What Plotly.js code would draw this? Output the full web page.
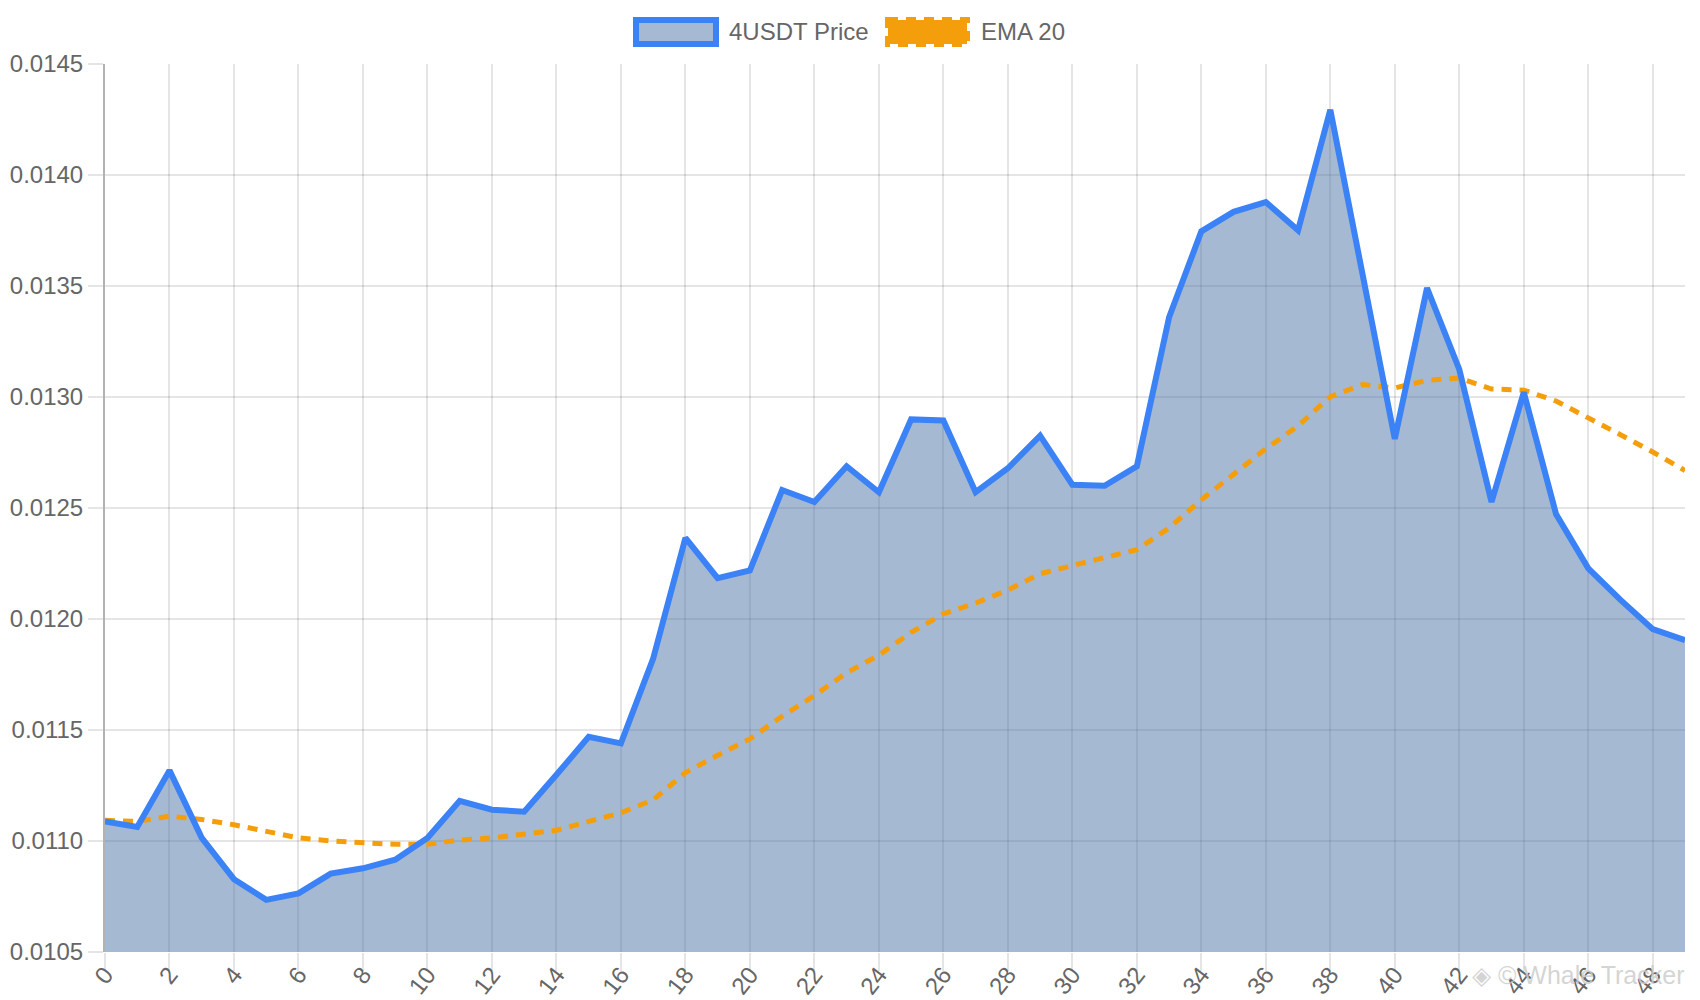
<!DOCTYPE html>
<html>
<head>
<meta charset="utf-8">
<script src="https://cdn.plot.ly/plotly-3.0.1.min.js"></script>
<style>
  html, body { margin: 0; padding: 0; background: #fff; }
  #chart { width: 1700px; height: 1000px; }
</style>
</head>
<body>
<div id="chart"></div>
<script>
// index of each candle (x axis)
var idx = [];
for (var i = 0; i < 50; i++) idx.push(i);

// 4USDT close price
var price = [
  0.011088, 0.011063, 0.011318, 0.011014, 0.010828, 0.010735, 0.010764, 0.010853, 0.010877, 0.010916,
  0.011014, 0.011181, 0.011141, 0.011132, 0.011298, 0.011469, 0.011440, 0.011822, 0.012365, 0.012184,
  0.012219, 0.012581, 0.012527, 0.012688, 0.012571, 0.012899, 0.012894, 0.012571, 0.012679, 0.012826,
  0.012605, 0.012600, 0.012688, 0.013359, 0.013746, 0.013834, 0.013878, 0.013751, 0.014294, 0.013565,
  0.012811, 0.013491, 0.013124, 0.012527, 0.013021, 0.012473, 0.012228, 0.012086, 0.011954, 0.011905
];

// EMA 20 of the price
var ema20 = [
  0.011093, 0.011088, 0.011112, 0.011097, 0.011073, 0.011043, 0.011014, 0.011000, 0.010990, 0.010985,
  0.010985, 0.011004, 0.011014, 0.011029, 0.011048, 0.011088, 0.011127, 0.011185, 0.011308, 0.011386,
  0.011460, 0.011562, 0.011655, 0.011758, 0.011837, 0.011940, 0.012023, 0.012072, 0.012130, 0.012204,
  0.012243, 0.012277, 0.012312, 0.012410, 0.012537, 0.012654, 0.012767, 0.012870, 0.013002, 0.013056,
  0.013041, 0.013075, 0.013085, 0.013036, 0.013031, 0.012982, 0.012909, 0.012830, 0.012752, 0.012669
];

var seriesNames = ['4USDT Price', 'EMA 20'];

var BLUE = '#3b82f6';
var FILL = 'rgba(78,115,166,0.5)';
var ORANGE = '#f59e0b';
var GRID = 'rgba(0,0,0,0.1)';
var FONT = 'Liberation Sans, Arial, Helvetica, sans-serif';

// plot area in page pixels
var W = 1700, H = 1000;
var L = 105, R = 15, T = 64, B = 48;
function px(x) { return (x - L) / (W - L - R); }
function py(y) { return (H - B - y) / (H - T - B); }

var data = [
  { // fill under the price
    type: 'scatter', mode: 'lines', x: idx, y: price,
    fill: 'tozeroy', fillcolor: FILL,
    line: { width: 0, color: FILL },
    hoverinfo: 'skip', showlegend: false
  },
  {
    type: 'scatter', mode: 'lines', x: idx, y: ema20, name: seriesNames[1],
    line: { color: ORANGE, width: 5, dash: '10px,8px' },
    showlegend: false
  },
  {
    type: 'scatter', mode: 'lines', x: idx, y: price, name: seriesNames[0],
    line: { color: BLUE, width: 6 },
    showlegend: false
  }
];

var layout = {
  width: W,
  height: H,
  margin: { l: L, r: R, t: T, b: B },
  paper_bgcolor: '#fff',
  plot_bgcolor: '#fff',
  font: { family: FONT, size: 24, color: '#666' },
  showlegend: false,
  xaxis: {
    range: [0, 49],
    tickmode: 'linear', tick0: 0, dtick: 2,
    tickangle: -52,
    ticks: 'outside', ticklen: 18, tickwidth: 2, tickcolor: GRID,
    ticklabelstandoff: -20,
    showgrid: true, gridcolor: GRID, gridwidth: 2,
    zeroline: false, showline: false,
    layer: 'below traces',
    automargin: false,
    tickfont: { family: FONT, size: 24, color: '#666' }
  },
  yaxis: {
    range: [0.0105, 0.0145],
    tickmode: 'linear', tick0: 0.0105, dtick: 0.0005,
    tickformat: '.4f',
    ticks: 'outside', ticklen: 15, tickwidth: 2, tickcolor: GRID,
    showgrid: true, gridcolor: GRID, gridwidth: 2,
    zeroline: false,
    showline: true, linecolor: 'rgba(0,0,0,0.3)', linewidth: 2,
    layer: 'below traces',
    automargin: false,
    tickfont: { family: FONT, size: 24, color: '#666' }
  },
  shapes: [
    { // legend swatch: price
      type: 'rect', xref: 'paper', yref: 'paper',
      x0: px(636), x1: px(716), y0: py(20), y1: py(44),
      fillcolor: FILL, line: { color: BLUE, width: 6 }
    },
    { // legend swatch: EMA
      type: 'rect', xref: 'paper', yref: 'paper',
      x0: px(888), x1: px(967), y0: py(20), y1: py(44),
      fillcolor: ORANGE, line: { color: ORANGE, width: 6, dash: '10px,8px' }
    }
  ],
  annotations: [
    {
      xref: 'paper', yref: 'paper', x: px(727), y: py(32),
      xanchor: 'left', yanchor: 'middle', showarrow: false,
      text: seriesNames[0], font: { family: FONT, size: 24, color: '#666' }
    },
    {
      xref: 'paper', yref: 'paper', x: px(979), y: py(32),
      xanchor: 'left', yanchor: 'middle', showarrow: false,
      text: seriesNames[1], font: { family: FONT, size: 24, color: '#666' }
    },
    { // watermark
      xref: 'paper', yref: 'paper', x: px(1470), y: py(975),
      xanchor: 'left', yanchor: 'middle', showarrow: false,
      text: '◈ © Whale Tracker',
      font: { family: FONT, size: 25, color: 'rgba(205,205,205,0.85)' }
    }
  ]
};

Plotly.newPlot('chart', data, layout, { displayModeBar: false, staticPlot: true });
</script>
</body>
</html>
